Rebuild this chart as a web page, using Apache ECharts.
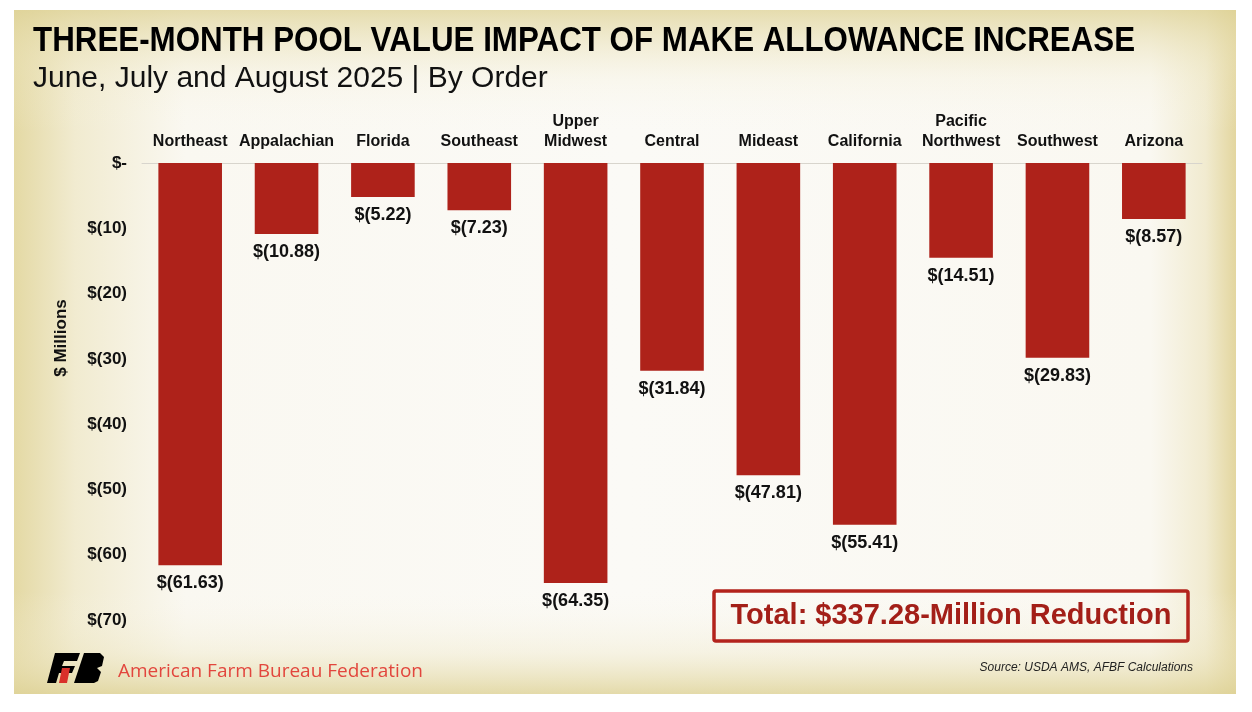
<!DOCTYPE html>
<html>
<head>
<meta charset="utf-8">
<script src="https://cdn.jsdelivr.net/npm/echarts@6/dist/echarts.min.js"></script>
<style>
  html, body { margin: 0; padding: 0; background: #fff; }
  #main { width: 1252px; height: 712px; }
</style>
</head>
<body>
<div id="main"></div>
<script>
// 各订单区域
var orders = ['Northeast', 'Appalachian', 'Florida', 'Southeast', 'Upper\nMidwest', 'Central',
  'Mideast', 'California', 'Pacific\nNorthwest', 'Southwest', 'Arizona'];
// 三个月池值影响（百万美元）
var impact = [-61.63, -10.88, -5.22, -7.23, -64.35, -31.84, -47.81, -55.41, -14.51, -29.83, -8.57];
var yTicks = [0, -10, -20, -30, -40, -50, -60, -70];

var chart = echarts.init(document.getElementById('main'));

function money(v, digits) {
  if (v === 0) return '$-';
  var s = Math.abs(v).toFixed(digits);
  return v < 0 ? '$(' + s + ')' : '$' + s;
}

var font = '"Liberation Sans", Arial, sans-serif';

var option = {
  backgroundColor: '#ffffff',
  animation: false,
  graphic: [
    // 背景：左右边缘偏黄
    {
      type: 'rect', z: -10, silent: true,
      shape: { x: 14, y: 10, width: 1222, height: 684 },
      style: {
        fill: {
          type: 'linear', x: 0, y: 0, x2: 1, y2: 0,
          colorStops: [
            { offset: 0, color: '#e4d9a4' },
            { offset: 0.05, color: '#f1ebd0' },
            { offset: 0.14, color: '#faf8f1' },
            { offset: 0.5, color: '#fbfaf6' },
            { offset: 0.93, color: '#faf8f1' },
            { offset: 0.975, color: '#f1ebd0' },
            { offset: 1, color: '#e3d69f' }
          ]
        }
      }
    },
    // 上下边缘
    {
      type: 'rect', z: -9, silent: true,
      shape: { x: 14, y: 10, width: 1222, height: 684 },
      style: {
        fill: {
          type: 'linear', x: 0, y: 0, x2: 0, y2: 1,
          colorStops: [
            { offset: 0, color: 'rgba(222,210,150,0.75)' },
            { offset: 0.1, color: 'rgba(240,233,200,0.2)' },
            { offset: 0.18, color: 'rgba(250,248,240,0)' },
            { offset: 0.85, color: 'rgba(250,248,240,0)' },
            { offset: 0.94, color: 'rgba(236,228,190,0.35)' },
            { offset: 1, color: 'rgba(222,210,150,0.8)' }
          ]
        }
      }
    },
    {
      type: 'text', left: 33, top: 24, scaleX: 0.895, originX: 33,
      style: { text: 'THREE-MONTH POOL VALUE IMPACT OF MAKE ALLOWANCE INCREASE', fill: '#000',
        font: 'bold 35px ' + font }
    },
    {
      type: 'text', left: 33, top: 64,
      style: { text: 'June, July and August 2025 | By Order', fill: '#111',
        font: '30px ' + font }
    },
    {
      type: 'text', x: 61, y: 338, rotation: Math.PI / 2,
      style: { text: '$ Millions', fill: '#111', font: 'bold 17px ' + font,
        align: 'center', verticalAlign: 'middle' }
    },
    {
      type: 'rect',
      shape: { x: 714, y: 591, width: 474, height: 50, r: 2 },
      style: { fill: 'transparent', stroke: '#b3231c', lineWidth: 3.5 }
    },
    {
      type: 'text', x: 951, y: 616,
      style: { text: 'Total: $337.28-Million Reduction', fill: '#a31f18',
        font: 'bold 29px ' + font, align: 'center', verticalAlign: 'middle' }
    },
    {
      type: 'text', x: 1193, y: 668,
      style: { text: 'Source: USDA AMS, AFBF Calculations', fill: '#222',
        font: 'italic 12px ' + font, align: 'right', verticalAlign: 'middle' }
    },
    // 简化的 FB 标志
    {
      type: 'polygon',
      shape: { points: [[55, 653], [80, 653], [77, 661], [64, 661], [62, 666], [75, 666], [72, 673], [59, 673], [56, 683], [47, 683]] },
      style: { fill: '#000' }
    },
    {
      type: 'polygon',
      shape: { points: [[62, 668], [70, 668], [67, 683], [59, 683]] },
      style: { fill: '#d9302a' }
    },
    {
      type: 'polygon',
      shape: { points: [[84, 653], [100, 653], [104, 657], [102, 666], [97, 668], [101, 672], [98, 681], [94, 683], [74, 683]] },
      style: { fill: '#000' }
    },
    {
      type: 'text', x: 118, y: 672,
      style: { text: 'American Farm Bureau Federation', fill: '#e2463d',
        font: '19px "Open Sans", ' + font, verticalAlign: 'middle' }
    }
  ],
  grid: { left: 142, right: 50, top: 163, bottom: 92, containLabel: false },
  xAxis: {
    type: 'category',
    position: 'top',
    data: orders,
    axisLine: { show: true, lineStyle: { color: '#d8d5cd', width: 1 } },
    axisTick: { show: false },
    axisLabel: { color: '#111', fontWeight: 'bold', fontSize: 16, fontFamily: font,
      margin: 11, interval: 0, lineHeight: 20 }
  },
  yAxis: {
    type: 'value',
    min: -70, max: 0, interval: 10,
    splitLine: { show: false },
    axisLine: { show: false },
    axisTick: { show: false },
    axisLabel: {
      color: '#111', fontWeight: 'bold', fontSize: 17, fontFamily: font, margin: 15,
      formatter: function (v) { return yTicks.indexOf(v) >= 0 ? money(v, 0) : ''; }
    }
  },
  series: [{
    type: 'bar',
    data: impact,
    barWidth: '66%',
    itemStyle: { color: '#ae221a' },
    label: {
      show: true, position: 'bottom', distance: 9,
      color: '#111', fontWeight: 'bold', fontSize: 18, fontFamily: font,
      formatter: function (p) { return money(p.value, 2); }
    }
  }]
};

chart.setOption(option);
</script>
</body>
</html>
